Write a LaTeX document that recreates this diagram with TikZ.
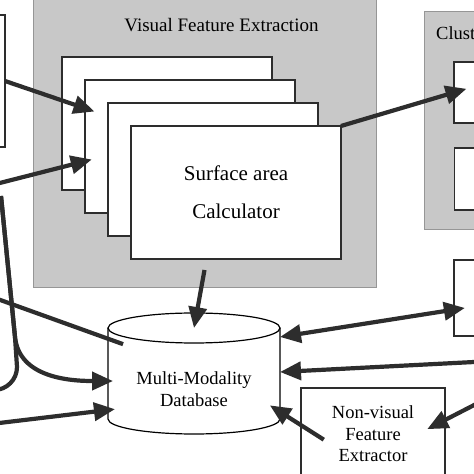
\documentclass[tikz,border=0pt]{standalone}
\usepackage{fontspec}
\setmainfont{Liberation Serif}
\usetikzlibrary{arrows.meta}
\definecolor{panelgray}{RGB}{200,200,200}
\definecolor{edgegray}{RGB}{150,150,150}
\definecolor{inkgray}{RGB}{45,45,45}
\tikzset{>={Triangle[length=21pt,width=18pt]}}
\begin{document}
\begin{tikzpicture}[x=1pt,y=1pt,
    panel/.style={draw=edgegray,fill=panelgray,line width=0.8pt,inner sep=0pt,outer sep=0pt},
    box/.style={draw=inkgray,fill=white,line width=1.2pt,inner sep=0pt,outer sep=0pt},
    arr/.style={draw=inkgray,line width=4.2pt,->},
    wire/.style={draw=inkgray,line width=4.2pt},
    txt/.style={font=\fontsize{18.5}{21.5}\selectfont,align=center}]
  \useasboundingbox (0,0) rectangle (474,474);
  \clip (0,0) rectangle (474,474);
  % visual feature extraction
  \node[panel,minimum width=343pt,minimum height=303pt] (vfe) at (204.5,338.5) {};
  \node[txt,font=\fontsize{19}{22}\selectfont] (vfetitle) at (221.5,449) {Visual Feature Extraction};
  \node[box,minimum width=210pt,minimum height=133pt] (s1) at (167,350.5) {};
  \node[box,minimum width=210pt,minimum height=133pt] (s2) at (190,327.5) {};
  \node[box,minimum width=210pt,minimum height=133pt] (s3) at (213,304.5) {};
  \node[box,minimum width=210pt,minimum height=133pt,align=center,
    font=\fontsize{21}{38}\selectfont] (s4) at (236,281.5) {Surface area\\Calculator};
  % clustering
  \node[panel,minimum width=80pt,minimum height=218pt] (clu) at (464,354) {};
  \node[txt,anchor=west,inner sep=0pt] (clutitle) at (436,441) {Clust};
  \node[box,minimum width=50pt,minimum height=61pt] (clA) at (479,381.5) {};
  \node[box,minimum width=50pt,minimum height=62pt] (clB) at (479.5,295) {};
  % other boxes
  \node[box,minimum width=50pt,minimum height=76pt] (rbox) at (479,176) {};
  \node[box,txt,minimum width=144pt,minimum height=92pt] (nv) at (373,40) {Non-visual\\Feature\\Extractor};
  \node[box,minimum width=25pt,minimum height=132pt] (src) at (-7.5,393) {};
  % database
  \node[minimum width=172pt,minimum height=121pt,inner sep=0pt,outer sep=0pt] (db) at (194,100.5) {};
  \coordinate (dbtop) at ([yshift=-15pt]db.north);
  \draw[line width=1.2pt,fill=white] ([yshift=-15pt]db.north west) -- ([yshift=15pt]db.south west)
    arc[start angle=180,end angle=360,x radius=86pt,y radius=15pt] -- ([yshift=-15pt]db.north east);
  \draw[line width=1.2pt,fill=white] (dbtop) ellipse[x radius=86pt,y radius=15pt];
  \node[txt,font=\fontsize{18.5}{22}\selectfont] (dblabel) at ([yshift=-15.5pt]db.center) {Multi-Modality\\Database};
  % free ends
  \coordinate (in1) at (-10,288.5);
  \coordinate (in3) at (-10,177.7);
  \coordinate (in4) at (1,278);
  \coordinate (split) at (15,137);
  \coordinate (bend) at (17,107);
  \coordinate (out5) at (-6,84);
  \coordinate (in5) at (-10,49.9);
  \coordinate (in6) at (480,112.3);
  \coordinate (in7) at (480,72);
  % connectors
  \draw[arr,shorten >=-10pt] (src.east) -- (s2.160);
  \draw[arr,shorten >=-7pt] (in1) -- (s2.188);
  \draw[arr,shorten >=-13pt] (s4.north east) -- (clA.west);
  \draw[arr] ([yshift=17pt]vfe.south) -- (dbtop);
  \draw[wire,shorten >=-16pt] (in3) -- (db.158);
  \draw[wire] (in4) -- (split) -- (bend) to[out=-90,in=0] (out5);
  \draw[arr,shorten >=-5pt] (in4) -- (split) to[out=-84,in=180] (db.185);
  \draw[arr,shorten >=-7pt] (in5) -- (db.203);
  \draw[arr,<->,shorten >=-11pt] (db.23) -- (rbox.205);
  \draw[arr] (in6) -- (db.1);
  \draw[arr,shorten >=-20pt] (in7) -- (nv.11);
  \draw[arr,shorten <=-27pt,shorten >=-12pt] (nv.173) -- (db.-24);
\end{tikzpicture}
\end{document}
